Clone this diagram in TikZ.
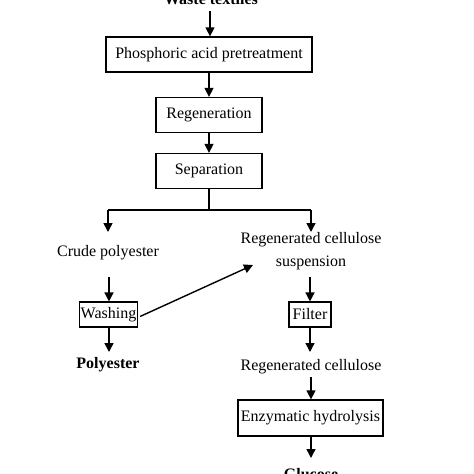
\documentclass[tikz,border=0pt]{standalone}
\usepackage{fontspec}
\setmainfont{Liberation Serif}
\usetikzlibrary{arrows.meta}
\begin{document}
\begin{tikzpicture}[x=1pt,y=-1pt,
  every node/.style={font=\fontsize{16}{18}\selectfont, inner sep=0pt},
  bf/.style={font=\fontsize{16}{18}\selectfont\bfseries},
  box/.style={draw, line width=1.3pt, minimum height=35pt, anchor=center},
  lbl/.style={anchor=center},
  arr/.style={line width=1.4pt, -{Triangle[length=9pt,width=9pt]}},
  ln/.style={line width=1.4pt}]
\useasboundingbox (0,0) rectangle (474,474);
\clip (0,0) rectangle (474,474);
\node[lbl, bf] (waste) at (211,-1) {Waste textiles};
\coordinate (wasteb) at (210,11);
\node[box, minimum width=206pt] (phos) at (209,54.5) {Phosphoric acid pretreatment};
\node[box, minimum width=106pt] (regen) at (209,115) {Regeneration};
\node[box, minimum width=106pt] (sep) at (209,171) {Separation};
\coordinate (split) at (209,210);
\coordinate (sl) at (108,210);
\coordinate (sr) at (311,210);
\node[lbl] (crude) at (108,253) {Crude polyester};
\node[lbl] (rcs1) at (311,240) {Regenerated cellulose};
\node[lbl] (rcs2) at (311,263) {suspension};
\node[box, minimum width=58pt, minimum height=25pt, line width=1.1pt] (wash) at (108.5,314.5) {Washing};
\node[lbl, bf] (poly) at (108,365) {Polyester};
\node[box, minimum width=42pt, minimum height=25pt, line width=1.1pt] (filter) at (310,314.5) {Filter};
\node[lbl] (rc) at (311,367) {Regenerated cellulose};
\node[box, minimum width=145pt, minimum height=36pt] (enz) at (310.5,418) {Enzymatic hydrolysis};
\node[lbl, bf] (glu) at (311,474) {Glucose};

\draw[arr] (wasteb) -- (wasteb |- phos.north);
\draw[arr] (phos.south) -- (regen.north);
\draw[arr] (regen.south) -- (sep.north);
\draw[ln] (sep.south) -- (split);
\draw[ln] (sl) -- (sr);
\draw[arr] (sl) -- (108,232);
\draw[arr] (sr) -- (311,232);
\draw[arr] (109,277) -- (wash.north -| 109,0);
\draw[arr] (wash.east) ++(2,2) -- (253,265);
\draw[arr] (wash.south -| 109,0) -- (109,352);
\draw[arr] (310,277) -- (filter.north);
\draw[arr] (filter.south) -- (310,352);
\draw[arr] (311,377) -- (enz.north -| 311,0);
\draw[arr] (enz.south -| 311,0) -- (311,458);
\end{tikzpicture}
\end{document}
